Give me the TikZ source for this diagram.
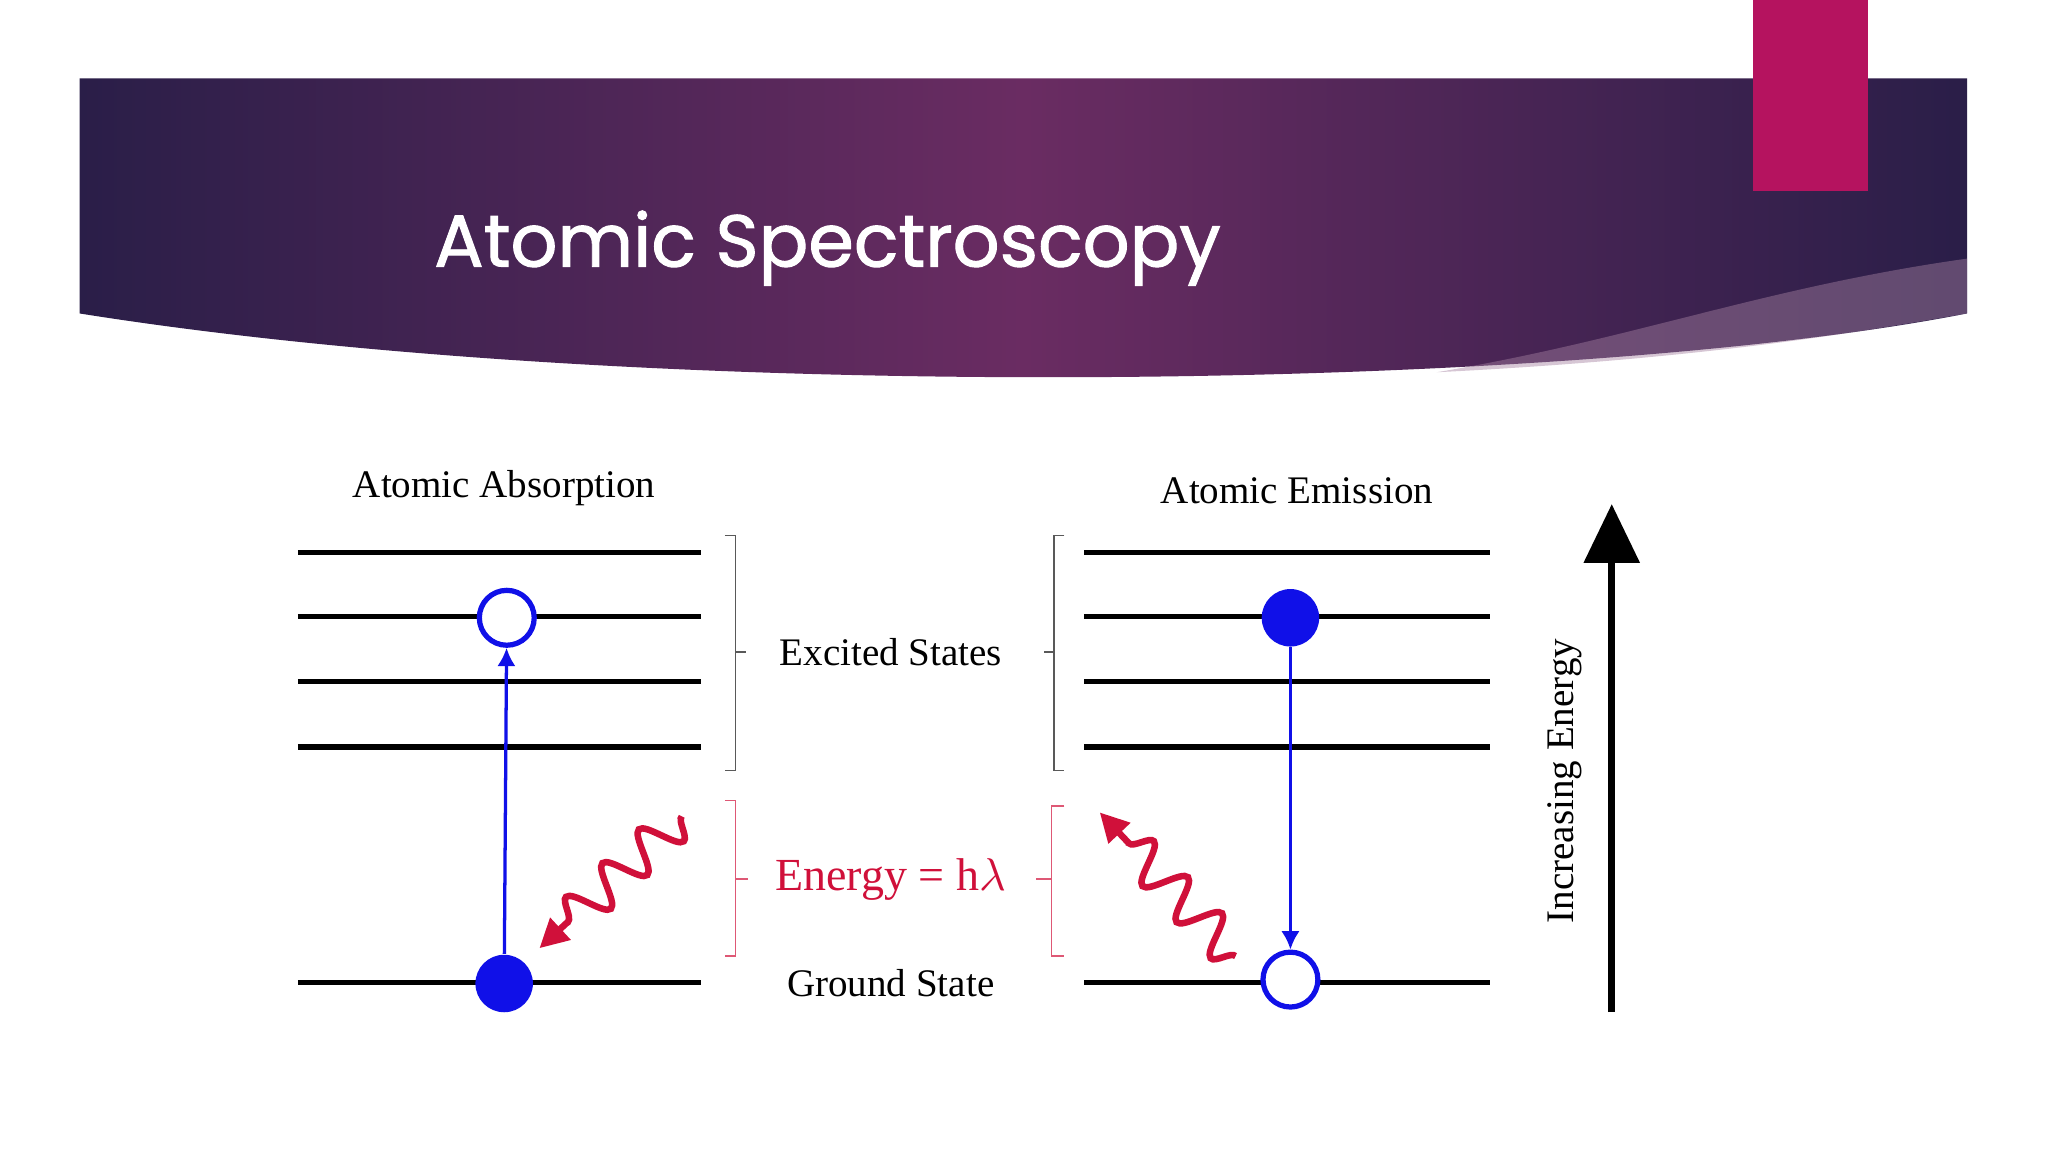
\documentclass[tikz,border=0pt]{standalone}
\usepackage{fontspec}
\setmainfont{Liberation Serif}
\newfontfamily\titlefont[FakeBold=1.3]{Poppins}
\usetikzlibrary{decorations.pathmorphing,arrows.meta,calc}
\definecolor{dotblue}{HTML}{1010E8}
\definecolor{ered}{HTML}{D0103A}
\definecolor{bandA}{HTML}{2A1E48}
\definecolor{bandB}{HTML}{6A2C62}
\definecolor{pinkbar}{HTML}{B5135F}
\tikzset{
 lvl/.style={line width=0.04cm,black},
 brk/.style={gray!70!black,line width=0.012cm},
 pbrk/.style={ered!70,line width=0.012cm},
 lab/.style={font=\fontsize{8.5pt}{10pt}\selectfont},
 opendot/.style={circle,draw=dotblue,fill=white,line width=0.04cm,minimum size=0.42cm,inner sep=0},
 fulldot/.style={circle,fill=dotblue,minimum size=0.44cm,inner sep=0},
 wave/.style={ered,line width=0.05cm,decorate,decoration={snake,segment length=0.38cm,amplitude=0.15cm,post length=0.2cm}},
}
\begin{document}
\begin{tikzpicture}[x=0.01cm,y=-0.01cm]
\useasboundingbox (0,0) rectangle (1568,882);
\fill[white] (0,0) rectangle (1568,882);
% banner
\shade[left color=bandA,right color=bandA,middle color=bandB]
 (61,60) -- (1506,60) -- (1506,240) .. controls (1200,300) and (500,310) .. (61,240) -- cycle;
\fill[white!40!bandB,opacity=0.45] (1506,198) .. controls (1350,220) and (1250,260) .. (1100,285) .. controls (1300,275) and (1420,255) .. (1506,240) -- cycle;
\fill[pinkbar] (1342,0) rectangle (1430,146);
\node[anchor=west,text=white,font=\titlefont\fontsize{16pt}{19pt}\selectfont] (title) at (320,190) {Atomic Spectroscopy};
% levels
\foreach \y/\n in {423/a,472/b,522/c,572/d,752/g}{
 \draw[lvl] (228,\y) coordinate (L\n1) -- (537,\y) coordinate (L\n2);
 \draw[lvl] (830,\y) coordinate (R\n1) -- (1141,\y) coordinate (R\n2);
}
\node[lab] (absT) at (386,374) {Atomic Absorption};
\node[lab] (emiT) at (993,376) {Atomic Emission};
\node[lab] (exc) at (682,499) {Excited States};
\node[lab,text=ered,font=\fontsize{10pt}{12pt}\selectfont] (en) at (682,673) {Energy = h$\lambda$};
\node[lab] (gs) at (682,753) {Ground State};
% brackets
\draw[brk] (555,410) -- (563,410) -- (563,590) -- (555,590);
\draw[brk] (563,499) -- (571,499);
\draw[brk] (815,410) -- (807,410) -- (807,590) -- (815,590);
\draw[brk] (807,499) -- (799,499);
\draw[pbrk] (555,613) -- (563,613) -- (563,732) -- (555,732);
\draw[pbrk] (563,673) -- (573,673);
\draw[pbrk] (815,617) -- (805,617) -- (805,732) -- (815,732);
\draw[pbrk] (805,673) -- (793,673);
% dots
\node[opendot] (aU) at (388,473) {};
\node[fulldot] (aG) at (386,753) {};
\node[fulldot] (eU) at (988,473) {};
\node[opendot] (eG) at (988,750) {};
\draw[dotblue,line width=0.025cm,-{Latex[length=0.14cm,width=0.14cm]}] (aG) -- (aU);
\draw[dotblue,line width=0.025cm,-{Latex[length=0.14cm,width=0.14cm]}] (eU) -- (eG);
% waves
\coordinate (w1s) at (522,625); \coordinate (w1e) at (413,726);
\coordinate (w2s) at (946,732); \coordinate (w2e) at (842,622);
\draw[wave,-{Triangle[length=0.22cm,width=0.22cm]}] (w1s) -- (w1e);
\draw[wave,-{Triangle[length=0.22cm,width=0.22cm]}] (w2s) -- (w2e);
% energy arrow
\coordinate (eb) at (1234,775); \coordinate (et) at (1234,386);
\draw[line width=0.05cm,-{Triangle[length=0.45cm,width=0.42cm]}] (eb) -- (et);
\node[lab,rotate=90] (inc) at (1198,598) {Increasing Energy};
\end{tikzpicture}
\end{document}
